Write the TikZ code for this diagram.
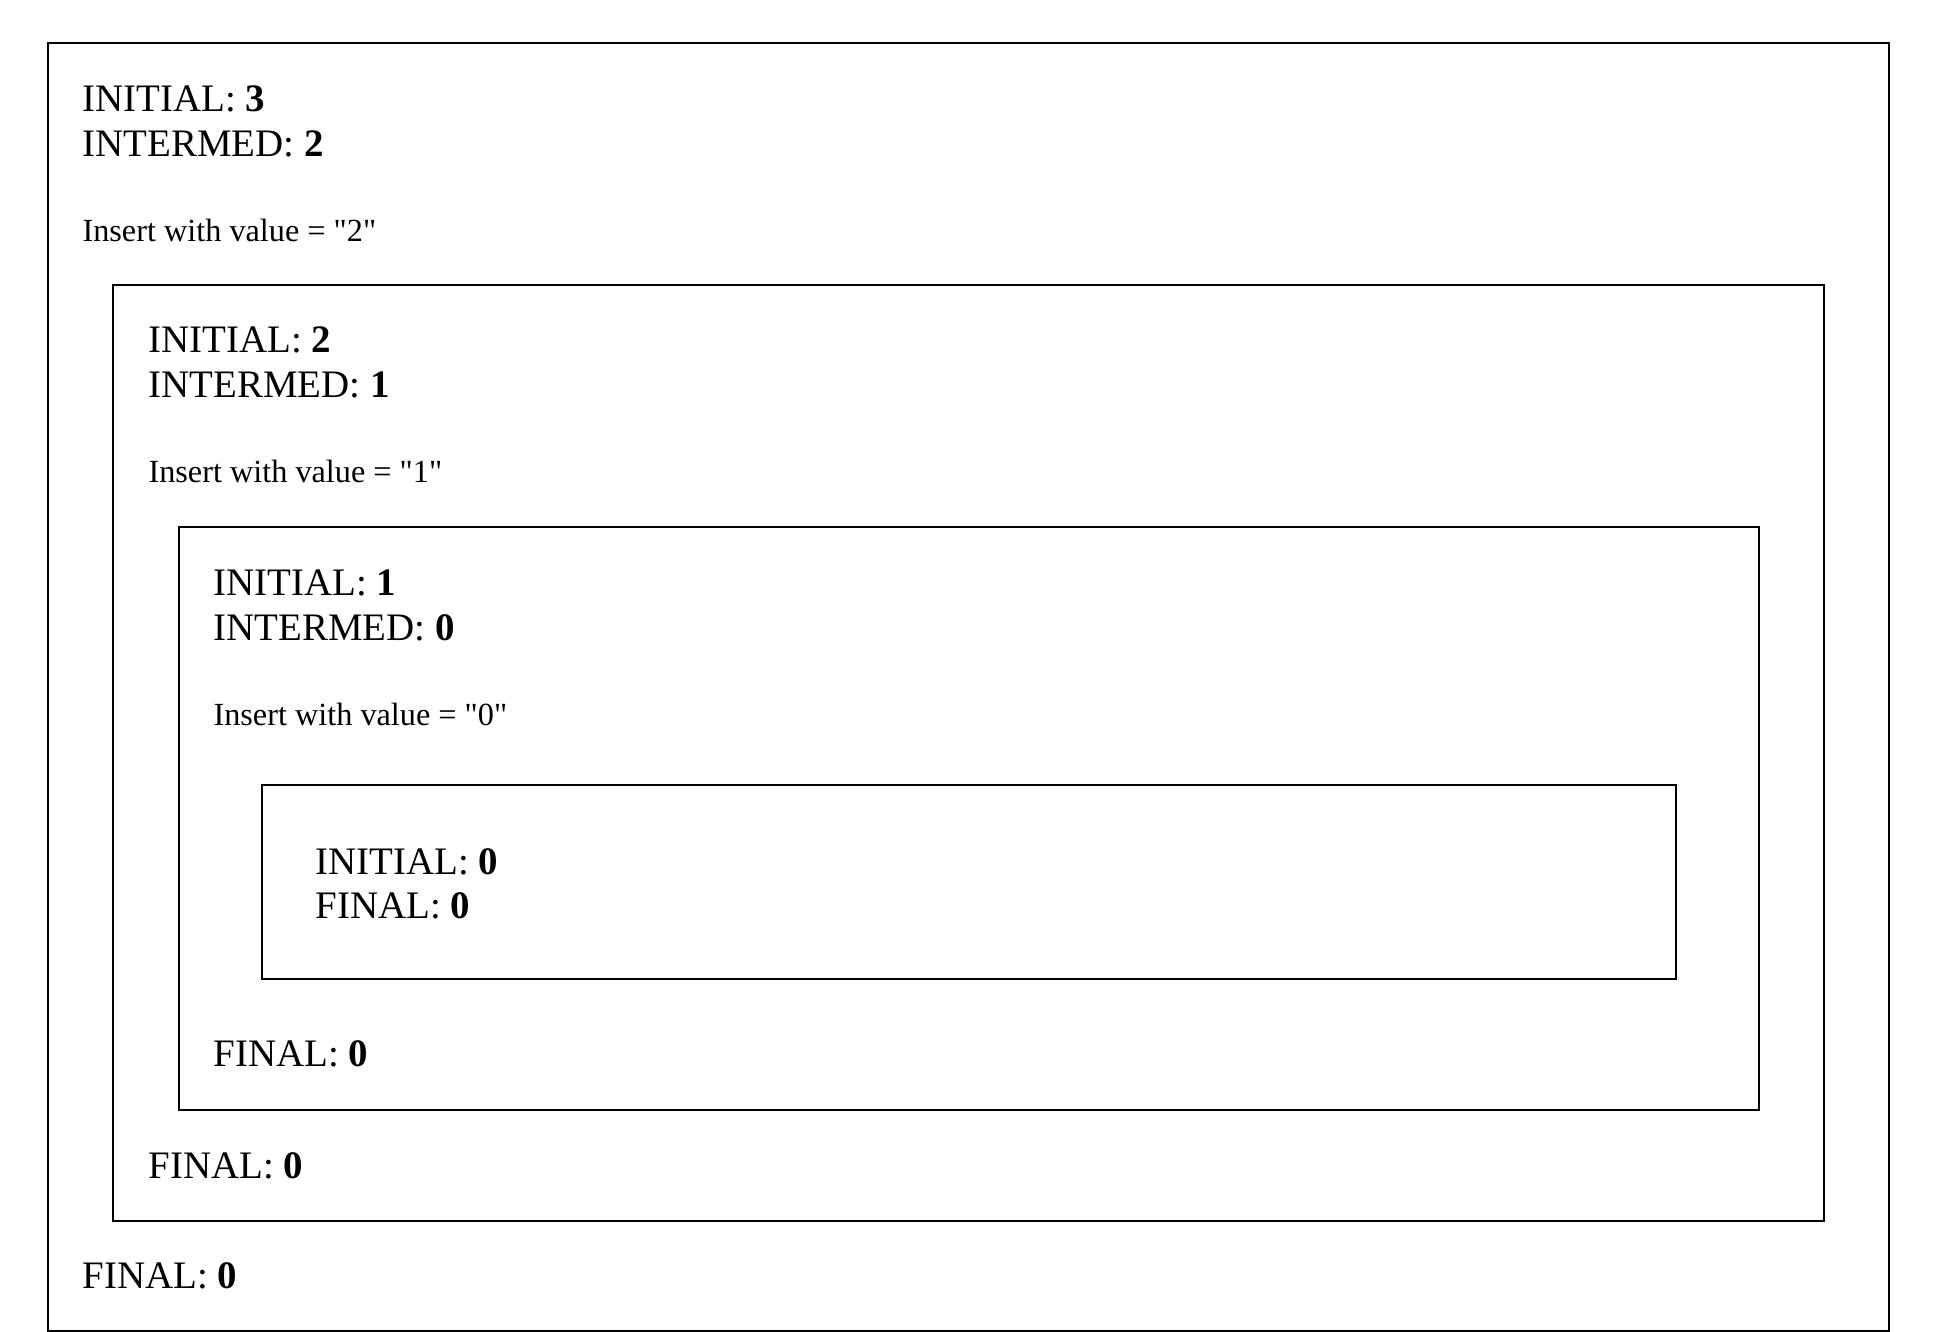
\documentclass[tikz,border=0pt]{standalone}
\usepackage{fontspec}
\setmainfont{Liberation Serif}
\newcommand{\dq}{\XeTeXglyph\XeTeXcharglyph34\relax}
\tikzset{
    valtext/.style={anchor=base west, inner sep=0pt, font=\fontsize{14.6}{17}\selectfont},
    instext/.style={anchor=base west, inner sep=0pt, font=\fontsize{12.1}{14}\selectfont},
    frame/.style={draw=black, line width=0.8pt}
}
\begin{document}
\begin{tikzpicture}[x=0.375pt, y=-0.375pt]
\useasboundingbox (0,0) rectangle (1938,1332);
% nested frames
\foreach \l/\t/\r/\b in {48/43/1889/1331, 113/285/1824/1221, 179/527/1759/1110, 262/785/1676/979}
{
    \draw[frame](\l,\t) rectangle (\r,\b);
}
% values and inserts of each level
\foreach \i/\x/\y/\a/\b in {1/82/112/3/2, 2/148/353/2/1, 3/213/595/1/0}
{
    \node[valtext] (ini\i) at (\x,\y) {INITIAL: \textbf{\a}};
    \node[valtext] (int\i) at (\x,\y+45) {INTERMED: \textbf{\b}};
    \node[instext] (ins\i) at (\x,\y+130) {Insert with value = \dq\b\dq};
}
\node[valtext] (ini4) at (315,874) {INITIAL: \textbf{0}};
\node[valtext] (fin4) at (315,918) {FINAL: \textbf{0}};
\foreach \i/\x/\y in {3/213/1066, 2/148/1178, 1/82/1288}
{
    \node[valtext] (fin\i) at (\x,\y) {FINAL: \textbf{0}};
}
\end{tikzpicture}
\end{document}
